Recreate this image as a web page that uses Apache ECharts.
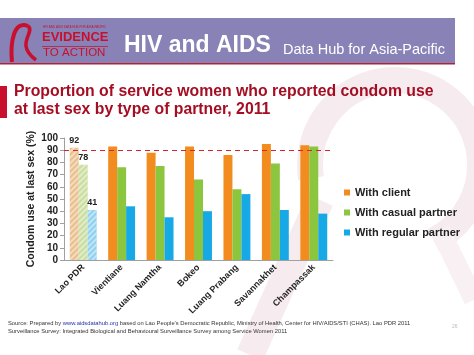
<!DOCTYPE html>
<html><head><meta charset="utf-8">
<script src="https://cdn.jsdelivr.net/npm/echarts@6/dist/echarts.min.js"></script>
<style>html,body{margin:0;padding:0;background:#fff}#c{width:474px;height:355px}</style>
</head><body><div id="c"></div>
<script>
const categories = ['Lao PDR','Vientiane','Luang Namtha','Bokeo','Luang Prabang','Savannakhet','Champassak'];
const withClient = [92, 93, 88, 93, 86, 95, 94];
const withCasual = [78, 76, 77, 66, 58, 79, 93];
const withRegular = [41, 44, 35, 40, 54, 41, 38];
const yTicks = [0,10,20,30,40,50,60,70,80,90,100];
const targetLine = 90;
const seriesNames = ['With client','With casual partner','With regular partner'];
const colors = ['#f28c1e','#8cc63f','#17a8e6'];
const lightColors = ['#e9bf8c','#c9de9e','#8fd0ef'];

const chart = echarts.init(document.getElementById('c'), null, {renderer:'canvas'});
function mk(vals, i){
  return vals.map((v, k) => k === 0 ? {
    value: v,
    itemStyle: {color: lightColors[i], decal: {symbol:'rect', color:'rgba(255,255,255,0.45)', dashArrayX:[1,0], dashArrayY:[1.5,2], rotation: -Math.PI/4}},
    label: {show: true, position: 'top', fontSize: 9, fontWeight: 'bold', color: '#222', fontFamily: 'Liberation Sans, Arial', distance: 3}
  } : v);
}
const series = [withClient, withCasual, withRegular].map((vals, i) => {
  const s = {
    name: seriesNames[i], type: 'bar', data: mk(vals, i), barGap: '0%', barCategoryGap: '30%',
    itemStyle: {color: colors[i]}, z: 3
  };
  if (i === 0) s.markLine = {silent: true, symbol: 'none', label: {show: false},
    lineStyle: {color: '#d9232e', type: [5,4], width: 1.2}, data: [{yAxis: targetLine}]};
  return s;
});
const font = 'Liberation Sans, Arial, sans-serif';
chart.setOption({
  animation: false,
  textStyle: {fontFamily: font},
  grid: {left: 64, right: 141, top: 138, bottom: 95},
  legend: {orient: 'vertical', left: 339, top: 182, itemWidth: 6, itemHeight: 6, itemGap: 9, icon: 'rect',
    data: seriesNames,
    textStyle: {fontSize: 11, fontWeight: 'bold', color: '#222', fontFamily: font}},
  xAxis: {type: 'category', data: categories,
    axisLine: {lineStyle: {color: '#a0a0a0'}}, axisTick: {lineStyle: {color: '#a0a0a0'}, length: 4},
    axisLabel: {rotate: 45, interval: 0, fontSize: 9, fontWeight: 'bold', color: '#222', margin: 6, fontFamily: font}},
  yAxis: {type: 'value', min: 0, max: 100, interval: 10,
    name: 'Condom use at last sex (%)', nameLocation: 'middle', nameGap: 27, nameMoveOverlap: false,
    nameTextStyle: {fontSize: 10.5, fontWeight: 'bold', color: '#222', fontFamily: font},
    axisLine: {show: true, lineStyle: {color: '#a0a0a0'}}, axisTick: {show: true, length: 4, lineStyle: {color: '#a0a0a0'}},
    splitLine: {show: false},
    axisLabel: {fontSize: 10, fontWeight: 'bold', color: '#222', margin: 6, fontFamily: font,
      formatter: v => yTicks.includes(v) ? String(v) : ''}},
  series: series,
  graphic: [
    {type: 'arc', z: -10, shape: {cx: 395, cy: 165, r: 85, startAngle: Math.PI*0.95, endAngle: Math.PI*2.35}, style: {stroke: '#f6ecf0', lineWidth: 26, fill: null}},
    {type: 'line', z: -10, shape: {x1: 320, y1: 200, x2: 250, y2: 355}, style: {stroke: '#f6ecf0', lineWidth: 28}},
    {type: 'line', z: -10, shape: {x1: 440, y1: 230, x2: 474, y2: 300}, style: {stroke: '#f8f0f3', lineWidth: 20}},
    {type: 'rect', shape: {x: 0, y: 18, width: 455, height: 46}, style: {fill: '#8882b7'}},
    {type: 'rect', shape: {x: 0, y: 63, width: 455, height: 1.5}, style: {fill: '#b22234'}},
    {type: 'bezierCurve', shape: {x1: 28, y1: 26, x2: 12, y2: 62, cpx1: 14, cpy1: 20, cpx2: 10, cpy2: 42}, style: {stroke: '#c8102e', lineWidth: 4, fill: null}},
    {type: 'bezierCurve', shape: {x1: 28, y1: 26, x2: 36, y2: 60, cpx1: 36, cpy1: 32, cpx2: 14, cpy2: 44}, style: {stroke: '#c8102e', lineWidth: 3.5, fill: null}},
    {type: 'text', style: {x: 43, y: 26, text: 'HIV AND AIDS DATA HUB FOR ASIA-PACIFIC', fontSize: 3, fill: '#c8102e', fontFamily: font}},
    {type: 'text', style: {x: 42, y: 31, text: 'EVIDENCE', fontSize: 13, fontWeight: 'bold', fill: '#c8102e', fontFamily: font}},
    {type: 'rect', shape: {x: 42, y: 46, width: 66, height: 0.7}, style: {fill: '#c8102e'}},
    {type: 'text', style: {x: 43, y: 47, text: 'TO ACTION', fontSize: 11.5, fill: '#c8102e', fontFamily: font}},
    {type: 'text', style: {x: 124, y: 34, text: 'HIV and AIDS', fontSize: 23, fontWeight: 'bold', fill: '#fff', fontFamily: font}},
    {type: 'text', style: {x: 283, y: 42, text: 'Data Hub for Asia-Pacific', fontSize: 14.5, fill: '#fff', fontFamily: font}},
    {type: 'rect', shape: {x: 0, y: 86, width: 7, height: 32}, style: {fill: '#c8102e'}},
    {type: 'text', style: {x: 14, y: 83, text: 'Proportion of service women who reported condom use\nat last sex by type of partner, 2011', fontSize: 15.8, fontWeight: 'bold', fill: '#a50d23', lineHeight: 18, fontFamily: font}},
    {type: 'text', style: {x: 8, y: 319, text: 'Source: Prepared by {u|www.aidsdatahub.org} based on Lao People\u2019s Democratic Republic, Ministry of Health, Center for HIV/AIDS/STI (CHAS). Lao PDR 2011\nSurveillance Survey: Integrated Biological and Behavioural Surveillance Survey among Service Women 2011', fontSize: 5.8, lineHeight: 8, fill: '#333', fontFamily: font, rich: {u: {fontSize: 5.8, fill: '#2233aa', textDecoration: 'underline'}}}},
    {type: 'text', style: {x: 452, y: 324, text: '26', fontSize: 5, fill: '#bbb', fontFamily: font}}
  ]
});
</script></body></html>
